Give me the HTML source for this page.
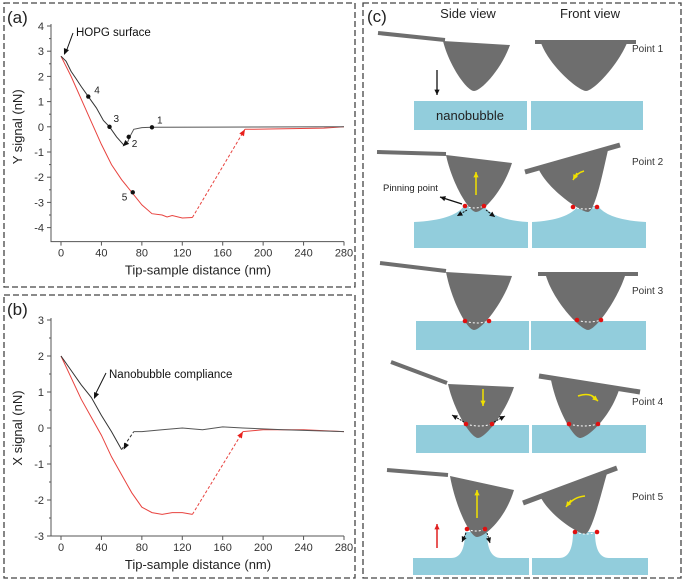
<!DOCTYPE html>
<html><head><meta charset="utf-8"><style>
body{margin:0;background:#fff;}
svg{display:block;font-family:"Liberation Sans",sans-serif;}
</style></head><body>
<svg id="fig" width="685" height="582" viewBox="0 0 685 582">
<g id="pa"></g>
<g id="pb"></g>
<g id="pc"></g>
</svg>
<script>
const xTicks=[0,40,80,120,160,200,240,280];
const aYTicks=[4,3,2,1,0,-1,-2,-3,-4];
const bYTicks=[3,2,1,0,-1,-2,-3];
const aBlackX=[0,5,10,15,20,27,35,42,48,55,62];
const aBlackY=[2.8,2.6,2.2,1.9,1.6,1.2,0.75,0.25,0,-0.4,-0.72];
const aBlackRetX=[66,68,72,80,90,150,280];
const aBlackRetY=[-0.6,-0.4,-0.1,-0.03,-0.02,-0.01,0];
const aRedX=[0,10,20,30,40,50,60,70,80,90,100,105,110,120,130];
const aRedY=[2.8,2.0,1.1,0.2,-0.7,-1.5,-2.1,-2.6,-3.1,-3.45,-3.5,-3.58,-3.52,-3.62,-3.6];
const aRedRetX=[182,190,260,280];
const aRedRetY=[-0.1,-0.1,-0.05,0];
const bBlackX=[0,10,20,30,40,50,60];
const bBlackY=[2.0,1.6,1.2,0.85,0.35,-0.1,-0.6];
const bBlackRetX=[72,80,100,120,140,160,180,220,280];
const bBlackRetY=[-0.1,-0.1,-0.05,0,-0.05,0.03,0,-0.05,-0.1];
const bRedX=[0,10,20,30,40,50,60,70,80,90,100,110,120,130];
const bRedY=[2.0,1.4,0.8,0.3,-0.2,-0.8,-1.3,-1.8,-2.2,-2.35,-2.4,-2.35,-2.35,-2.4];
const bRedRetX=[180,200,240,280];
const bRedRetY=[-0.1,-0.05,-0.05,-0.1];
const NS="http://www.w3.org/2000/svg";
function mk(p,t,a,txt){const e=document.createElementNS(NS,t);for(const k in a)e.setAttribute(k,a[k]);if(txt!==undefined)e.textContent=txt;p.appendChild(e);return e;}
function panel(g,o){
 const sx=v=>61+v*(283/280), sy=v=>o.y0-(v-o.ymax)*o.ppu;
 const box=mk(g,'rect',{x:o.bx,y:o.by,width:o.bw,height:o.bh,fill:'none',stroke:'#444','stroke-width':1.3,'stroke-dasharray':'6,3'});
 
 const lb=mk(g,'text',{x:o.bx+3,y:o.by+20,'font-size':17,fill:'#222'},o.label);
 
 const bottom=sy(o.ymin)+o.pad;
 const ax=mk(g,'path',{d:`M51 ${sy(o.ymax)-2}V${bottom}H344`,fill:'none',stroke:'#555','stroke-width':1});
 
 xTicks.forEach(t=>{mk(g,'line',{x1:sx(t),x2:sx(t),y1:bottom,y2:bottom+4,stroke:'#555'});
  const tl=mk(g,'text',{x:sx(t),y:bottom+15,'font-size':11,'text-anchor':'middle',fill:'#333'},t);
  });
 o.yt.forEach(t=>{mk(g,'line',{x1:47,x2:51,y1:sy(t),y2:sy(t),stroke:'#555'});
  if(t>o.ymin)mk(g,'line',{x1:49,x2:51,y1:sy(t-0.5),y2:sy(t-0.5),stroke:'#555'});
  const tl=mk(g,'text',{x:44,y:sy(t)+4,'font-size':11,'text-anchor':'end',fill:'#333'},t);
  });
 const xt=mk(g,'text',{x:198,y:bottom+33,'font-size':13,'text-anchor':'middle',fill:'#222'},'Tip-sample distance (nm)');
 
 const yc=(sy(o.ymax)+sy(o.ymin))/2;
 const yt=mk(g,'text',{x:22,y:yc,'font-size':13,'text-anchor':'middle',fill:'#222',transform:`rotate(-90 22 ${yc})`},o.ytitle);
 
 function line(X,Y,col,name,dash){const d=X.map((x,i)=>(i?'L':'M')+sx(x).toFixed(1)+' '+sy(Y[i]).toFixed(1)).join('');
  const p=mk(g,'path',{d,fill:'none',stroke:col,'stroke-width':1,'stroke-dasharray':dash||'none'});
  return p;}
 function arrowTo(x1,y1,x2,y2,col){const a=Math.atan2(y2-y1,x2-x1),L=7;
  mk(g,'path',{d:`M${x2} ${y2}L${x2-L*Math.cos(a-0.4)} ${y2-L*Math.sin(a-0.4)}L${x2-L*Math.cos(a+0.4)} ${y2-L*Math.sin(a+0.4)}Z`,fill:col});}
 line(o.rx,o.ry,'#e8433f','approach-red');
 const rl=o.rx.length-1;
 line([o.rx[rl],o.rrx[0]],[o.ry[rl],o.rry[0]],'#e8433f','retract-red-dashed','3,2');
 arrowTo(sx(o.rx[rl]),sy(o.ry[rl]),sx(o.rrx[0]),sy(o.rry[0]),'#e8201c');
 line(o.rrx,o.rry,'#e8433f','baseline-red');
 line(o.kx,o.ky,'#333','approach-black');
 const kl=o.kx.length-1;
 line([o.kx[kl],o.krx[0]],[o.ky[kl],o.kry[0]],'#333','jump-black-dashed','3,2');
 line(o.krx,o.kry,'#555','baseline-black');
 return {sx,sy,arrowTo};
}
const A=panel(document.getElementById('pa'),{bx:4,by:3,bw:351,bh:284,label:'(a)',ymax:4,ymin:-4,y0:26,ppu:25.2,pad:14,yt:aYTicks,ytitle:'Y signal (nN)',
 rx:aRedX,ry:aRedY,rrx:aRedRetX,rry:aRedRetY,kx:aBlackX,ky:aBlackY,krx:aBlackRetX,kry:aBlackRetY});
const ga=document.getElementById('pa');
[[90,-0.02,'1',5,-4],[67,-0.4,'2',3,10],[48,0,'3',4,-5],[27,1.2,'4',6,-3],[71,-2.6,'5',-11,8]].forEach(p=>{
 const c=mk(ga,'circle',{cx:A.sx(p[0]),cy:A.sy(p[1]),r:2.2,fill:'#111'});
 mk(ga,'text',{x:A.sx(p[0])+p[3],y:A.sy(p[1])+p[4],'font-size':10,fill:'#222'},p[2]);});
A.arrowTo(A.sx(66),A.sy(-0.58),A.sx(61),A.sy(-0.78),'#111');
mk(ga,'text',{x:76,y:36,'font-size':11.5,fill:'#111'},'HOPG surface');
mk(ga,'line',{x1:73,y1:33,x2:66,y2:52,stroke:'#111'});A.arrowTo(71,38,64,55,'#111');
const B=panel(document.getElementById('pb'),{bx:4,by:295,bw:351,bh:283,label:'(b)',ymax:3,ymin:-3,y0:320,ppu:36,pad:0,yt:bYTicks,ytitle:'X signal (nN)',
 rx:bRedX,ry:bRedY,rrx:bRedRetX,rry:bRedRetY,kx:bBlackX,ky:bBlackY,krx:bBlackRetX,kry:bBlackRetY});
const gb=document.getElementById('pb');
B.arrowTo(B.sx(70),B.sy(-0.15),B.sx(62),B.sy(-0.6),'#111');
mk(gb,'text',{x:109,y:378,'font-size':11.5,fill:'#111'},'Nanobubble compliance');
mk(gb,'line',{x1:106,y1:373,x2:96,y2:393,stroke:'#111'});B.arrowTo(104,376,94,399,'#111');
// panel c
const gc=document.getElementById('pc');
const bx=mk(gc,'rect',{x:363,y:3,width:318,height:575,fill:'none',stroke:'#444','stroke-width':1.3,'stroke-dasharray':'6,3'});

mk(gc,'text',{x:367,y:22,'font-size':17,fill:'#222'},'(c)');
mk(gc,'text',{x:468,y:18,'font-size':13,'text-anchor':'middle',fill:'#222'},'Side view');
mk(gc,'text',{x:590,y:18,'font-size':13,'text-anchor':'middle',fill:'#222'},'Front view');
const G='#6e6e6e',BL='#92cddc';
function tip(l,r,ty,ax,ay,ty2){ty2=ty2===undefined?ty:ty2;
 const h=ay-ty;
 const p=mk(gc,'path',{d:`M${l} ${ty}L${r} ${ty2}C${r-(r-ax)*0.25} ${ty2+h*0.5} ${ax+7} ${ay} ${ax} ${ay}C${ax-7} ${ay} ${l+(ax-l)*0.2} ${ty+h*0.5} ${l} ${ty}Z`,fill:G});
 }
function bar(x1,y1,x2,y2,w){const p=mk(gc,'line',{x1,y1,x2,y2,stroke:G,'stroke-width':w||4});}
function sub(l,r,top,bot,bump,cx,bh,neck){let d;
 if(!bump)d=`M${l} ${top}H${r}V${bot}H${l}Z`;
 else if(neck)d=`M${l} ${top}L${cx-25} ${top}Q${cx-11} ${top} ${cx-11} ${top-bh}L${cx+11} ${top-bh}Q${cx+11} ${top} ${cx+25} ${top}L${r} ${top}V${bot}H${l}Z`;
 else d=`M${l} ${top}Q${cx-20} ${top-2} ${cx-10} ${top-bh}L${cx+10} ${top-bh}Q${cx+20} ${top-2} ${r} ${top}V${bot}H${l}Z`;
 const p=mk(gc,'path',{d,fill:BL});}
function pins(x1,x2,y){mk(gc,'path',{d:`M${x1} ${y}Q${(x1+x2)/2} ${y+4} ${x2} ${y}`,fill:'none',stroke:'#fff','stroke-dasharray':'2,2','stroke-width':1});
 mk(gc,'circle',{cx:x1,cy:y,r:2.3,fill:'#e01010'});mk(gc,'circle',{cx:x2,cy:y,r:2.3,fill:'#e01010'});}
function arr(x1,y1,x2,y2,col,w,dash){mk(gc,'line',{x1,y1,x2,y2,stroke:col,'stroke-width':w||1.3,'stroke-dasharray':dash||'none'});
 const a=Math.atan2(y2-y1,x2-x1),L=6;mk(gc,'path',{d:`M${x2} ${y2}L${x2-L*Math.cos(a-0.45)} ${y2-L*Math.sin(a-0.45)}L${x2-L*Math.cos(a+0.45)} ${y2-L*Math.sin(a+0.45)}Z`,fill:col});}
function pt(y,t){const e=mk(gc,'text',{x:632,y,'font-size':10,fill:'#333'},t);}
// row1
bar(378,33,445,40);tip(443,510,41,474,91,45);
bar(535,42,636,42);tip(541,627,43,586,91);
sub(414,527,101,130);sub(531,643,101,130);
mk(gc,'text',{x:436,y:120,'font-size':13,fill:'#222'},'nanobubble');
arr(437,70,437,95,'#111');pt(52,'Point 1');
// row2
sub(414,528,222,248,true,474,16);sub(532,646,222,248,true,588,16);
bar(377,152,446,154);tip(446,512,155,476,212,163);
bar(525,172,620,145,5);tip(538,608,168,588,212,150);
pins(465,484,206);pins(573,597,207);
arr(476,195,476,172,'#f0e000',1.5);
mk(gc,'path',{d:'M584 171Q577 173 575 178',fill:'none',stroke:'#f0e000','stroke-width':1.5});arr(577,173,573,180,'#f0e000',1.5);
mk(gc,'text',{x:383,y:191,'font-size':9.5,fill:'#222'},'Pinning point');
arr(462,204,440,197,'#111');arr(467,210,457,216,'#111',1,'2,1');arr(486,210,495,217,'#111',1,'2,1');
pt(165,'Point 2');
// row3
sub(416,529,321,350);sub(531,646,321,350);
bar(380,263,446,271);tip(446,512,272,474,330,276);
bar(538,274,638,274);tip(546,625,276,588,330);
pins(465,489,321);pins(577,601,320);pt(294,'Point 3');
// row4
sub(416,529,425,453);sub(532,646,425,453);
bar(391,362,447,383);tip(448,514,384,478,438,387);
bar(539,376,640,392,5);tip(551,619,380,580,438,390);
pins(466,492,424);pins(569,598,424);
arr(483,389,483,406,'#f0e000',1.5);
mk(gc,'path',{d:'M578 396Q590 392 596 399',fill:'none',stroke:'#f0e000','stroke-width':1.5});arr(592,396,598,401,'#f0e000',1.5);
arr(464,422,452,415,'#111',1,'2,1');arr(494,422,505,416,'#111',1,'2,1');
pt(405,'Point 4');
// row5
sub(413,529,558,575,true,476,26,true);sub(532,648,558,575,true,584,26,true);
bar(387,470,448,475);tip(450,514,476,477,537,490);
bar(523,503,617,468,5);tip(540,608,496,585,534,470);
pins(467,485,529);pins(575,597,532);
arr(477,518,477,490,'#f0e000',1.5);
mk(gc,'path',{d:'M585 496Q574 497 568 505',fill:'none',stroke:'#f0e000','stroke-width':1.5});arr(571,500,566,507,'#f0e000',1.5);
arr(437,548,437,524,'#e02020',1.5);
arr(466,533,462,542,'#111',1,'2,1');arr(487,533,490,543,'#111',1,'2,1');
pt(500,'Point 5');
</script>
</body></html>
